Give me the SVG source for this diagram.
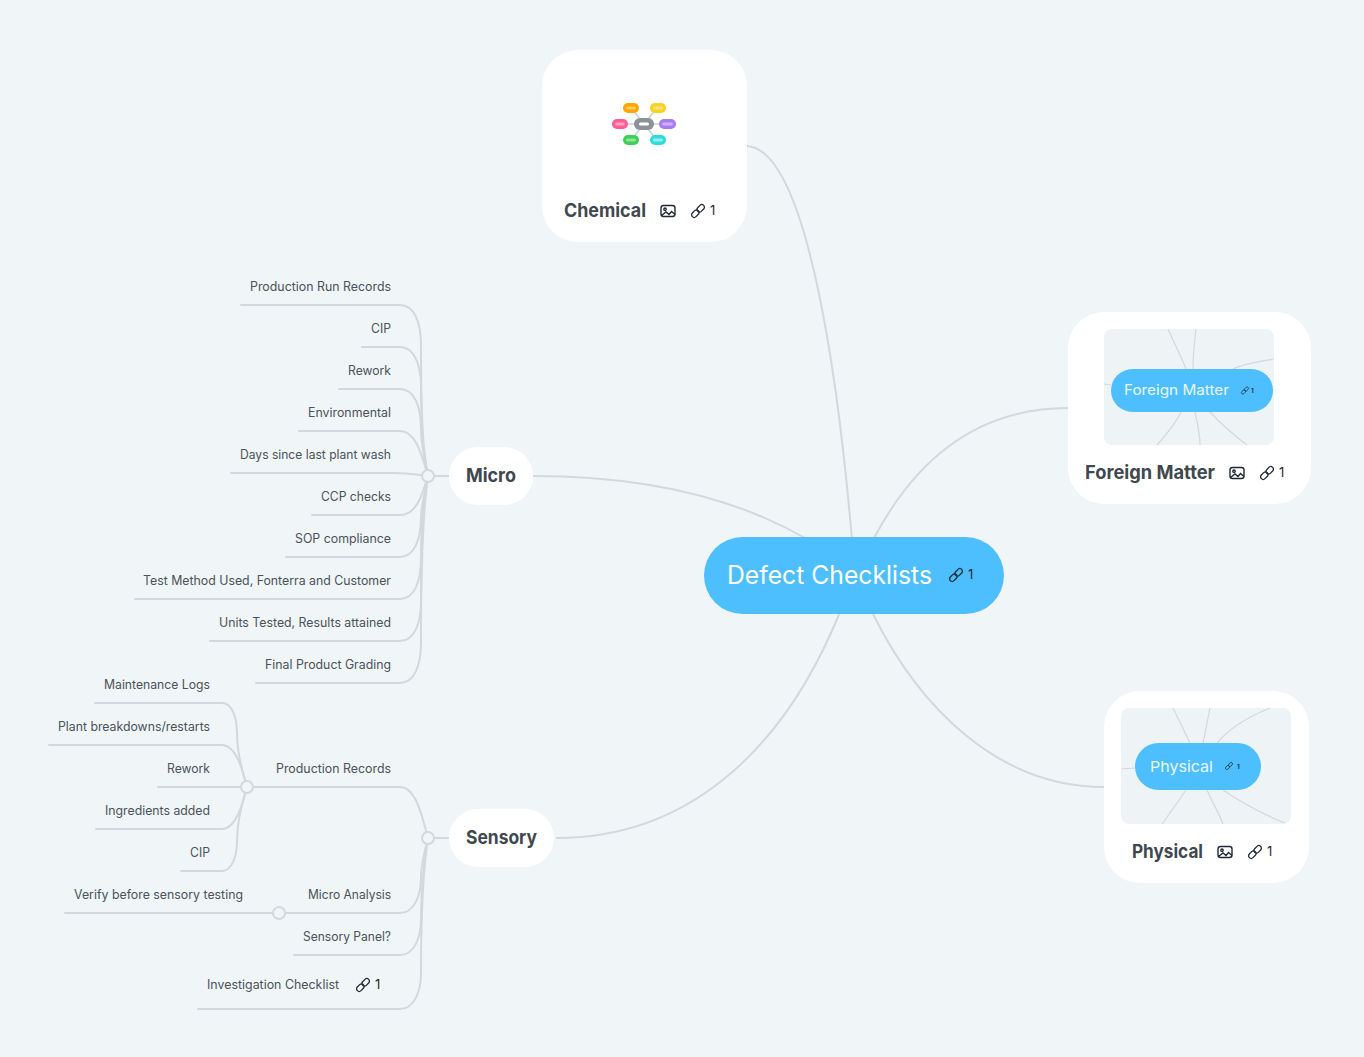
<svg xmlns="http://www.w3.org/2000/svg" xmlns:xlink="http://www.w3.org/1999/xlink" width="1364" height="1057" viewBox="0 0 1364 1057">
<style>
text{font-family:"Inter","Noto Sans","Liberation Sans",sans-serif}
.e{fill:none;stroke:#d2d8dc;stroke-width:2;stroke-linecap:round}
.m{fill:none;stroke:#d2d8dc;stroke-width:1.2}
.leaf{font-size:12.5px;fill:#4a5359;text-anchor:end}
.main{font-size:19px;font-weight:700;fill:#3f484f}
.n{font-size:13px;fill:#1f2a33}
.n2{font-size:6.5px;font-weight:600;fill:#1f2a33}
.dot{fill:#f0f5f8;stroke:#d2d8dc;stroke-width:2}
.card{fill:#fff}
.thumb{fill:#eef3f6}
.blue{fill:#4dbfff}
.wt{fill:#e8f6ff}
</style>
<defs>
<g id="link" fill="none" stroke="#1f2a33" stroke-width="1.3">
<rect x="-8" y="-2.6" width="8.5" height="5.2" rx="2.6" transform="rotate(-45)"/>
<rect x="-0.5" y="-2.6" width="8.5" height="5.2" rx="2.6" transform="rotate(-45)"/>
</g>
<g id="img" fill="none" stroke="#1f2a33" stroke-width="1.4">
<rect x="-7" y="-5.5" width="14" height="11" rx="2.5"/>
<circle cx="-3" cy="-1.8" r="1.2"/>
<path d="M-6.5 4.5 L-2 1 L1 3.5 L3.5 0.5 L7 3.5"/>
</g>
</defs>
<rect width="1364" height="1057" fill="#f0f5f8"/>
<g id="connectors">
<path class="e" d="M852 540C840 400 810 150 747 146"/>
<path class="e" d="M873 540C920 450 985 408 1068 408"/>
<path class="e" d="M872 612C920 710 1000 787 1104 787"/>
<path class="e" d="M533 476C640 476 730 495 805 538"/>
<path class="e" d="M557 838C680 838 780 760 840 612"/>
<path class="e" d="M449 476H428"/>
<path class="e" d="M449 838H428"/>
<path class="e" d="M428 476C423 450 421 420 421 345C421 322 414 305 400 305H241"/>
<path class="e" d="M428 476C423 455 421 430 421 387C421 364 414 347 400 347H362"/>
<path class="e" d="M428 476C425 460 421 445 421 429C421 406 414 389 400 389H339"/>
<path class="e" d="M428 476C422 456 416 431 400 431H299"/>
<path class="e" d="M428 476C415 474 405 473 391 473H231"/>
<path class="e" d="M428 476C422 496 416 515 400 515H312"/>
<path class="e" d="M428 476C425 492 421 507 421 517C421 540 414 557 400 557H286"/>
<path class="e" d="M428 476C423 497 421 525 421 559C421 582 414 599 400 599H135"/>
<path class="e" d="M428 476C423 505 421 545 421 601C421 624 414 641 400 641H210"/>
<path class="e" d="M428 476C423 510 421 565 421 643C421 666 414 683 400 683H256"/>
<path class="e" d="M428 838C422 816 416 787 400 787H247"/>
<path class="e" d="M428 838C425 850 421 865 421 877C421 896 414 913 400 913H279"/>
<path class="e" d="M428 838C424 860 421 890 421 919C421 938 414 955 400 955H294"/>
<path class="e" d="M428 838C423 870 421 910 421 973C421 992 414 1009 400 1009H198"/>
<path class="e" d="M247 787C240 765 237 750 237 733C237 718 232 703 222 703H95"/>
<path class="e" d="M247 787C243 771 236 745 222 745H49"/>
<path class="e" d="M247 787H158"/>
<path class="e" d="M247 787C243 803 236 829 222 829H96"/>
<path class="e" d="M247 787C240 809 237 824 237 841C237 856 232 871 222 871H181"/>
<path class="e" d="M279 913H65"/>
</g>
<g id="dots">
<circle class="dot" cx="428" cy="476" r="6"/>
<circle class="dot" cx="428" cy="838" r="6"/>
<circle class="dot" cx="247" cy="787" r="6"/>
<circle class="dot" cx="279" cy="913" r="6"/>
</g>
<g id="root">
<rect class="blue" x="704" y="537" width="300" height="77" rx="38.5"/>
<text x="727" y="584" font-size="25.5" fill="#fff" textLength="205" lengthAdjust="spacingAndGlyphs">Defect Checklists</text>
<use xlink:href="#link" href="#link" x="956" y="575"/>
<text class="n" x="968" y="579">1</text>
</g>
<g id="chemical">
<rect class="card" x="542" y="50" width="205" height="192" rx="36"/>
<g stroke="#c9cfd3" stroke-width="1.5">
<path d="M631 108L657 140M657 108L631 140M620 124H667"/>
</g>
<rect x="634" y="118" width="20" height="12" rx="6" fill="#8b9398"/><rect x="639" y="122.500" width="10" height="3" rx="1.500" fill="#fff"/>
<rect x="623" y="103" width="16" height="10" rx="5" fill="#ffa500"/><rect x="626" y="106.500" width="10" height="3" rx="1.500" fill="#ffc95c"/>
<rect x="650" y="103" width="16" height="10" rx="5" fill="#ffd01f"/><rect x="653" y="106.500" width="10" height="3" rx="1.500" fill="#ffe680"/>
<rect x="612" y="119" width="16" height="10" rx="5" fill="#ff5c93"/><rect x="615" y="122.500" width="10" height="3" rx="1.500" fill="#ffa0c2"/>
<rect x="659" y="119" width="17" height="10" rx="5" fill="#a67cf0"/><rect x="662" y="122.500" width="11" height="3" rx="1.500" fill="#cbb2f6"/>
<rect x="623" y="135" width="16" height="10" rx="5" fill="#3fcf55"/><rect x="626" y="138.500" width="10" height="3" rx="1.500" fill="#8fe39c"/>
<rect x="650" y="135" width="16" height="10" rx="5" fill="#2fdcdc"/><rect x="653" y="138.500" width="10" height="3" rx="1.500" fill="#93eeee"/>
<text class="main" x="564" y="217" textLength="82" lengthAdjust="spacingAndGlyphs">Chemical</text>
<use xlink:href="#img" href="#img" x="668" y="211"/>
<use xlink:href="#link" href="#link" x="698" y="211"/>
<text class="n" x="710" y="215">1</text>
</g>
<g id="foreign">
<rect class="card" x="1068" y="312" width="243" height="192" rx="36"/>
<rect class="thumb" x="1104" y="329" width="170" height="116" rx="8"/>
<path class="m" d="M1168 329C1175 345 1182 358 1186 369M1196 329C1194 345 1193 358 1193 369M1274 359C1255 362 1240 365 1233 369M1104 384L1111 385M1181 412C1175 425 1165 436 1157 445M1195 412C1198 425 1200 436 1200 445M1210 412C1222 425 1235 436 1247 445"/>
<rect class="blue" x="1111" y="369" width="162" height="43" rx="21.5"/>
<text class="wt" x="1124" y="395" font-size="14.5" textLength="105" lengthAdjust="spacingAndGlyphs">Foreign Matter</text>
<use xlink:href="#link" href="#link" transform="translate(1245 390.500) scale(.55)"/>
<text class="n2" x="1251" y="393">1</text>
<text class="main" x="1085" y="479" textLength="130" lengthAdjust="spacingAndGlyphs">Foreign Matter</text>
<use xlink:href="#img" href="#img" x="1237" y="473"/>
<use xlink:href="#link" href="#link" x="1267" y="473"/>
<text class="n" x="1279" y="477">1</text>
</g>
<g id="physical">
<rect class="card" x="1104" y="691" width="205" height="192" rx="36"/>
<rect class="thumb" x="1121" y="708" width="170" height="116" rx="8"/>
<path class="m" d="M1173 708C1180 722 1186 735 1190 743M1210 708C1207 722 1205 735 1203 743M1270 708C1245 718 1228 730 1217 743M1121 769L1135 768M1186 790C1178 802 1170 813 1162 824M1207 790C1212 802 1219 813 1223 824M1223 790C1245 805 1265 815 1285 823"/>
<rect class="blue" x="1135" y="743" width="126" height="47" rx="23.5"/>
<text class="wt" x="1150" y="772" font-size="15" textLength="63" lengthAdjust="spacingAndGlyphs">Physical</text>
<use xlink:href="#link" href="#link" transform="translate(1229 766) scale(.55)"/>
<text class="n2" x="1237" y="768.500">1</text>
<text class="main" x="1132" y="858" textLength="71" lengthAdjust="spacingAndGlyphs">Physical</text>
<use xlink:href="#img" href="#img" x="1225" y="852"/>
<use xlink:href="#link" href="#link" x="1255" y="852"/>
<text class="n" x="1267" y="856">1</text>
</g>
<g id="micro">
<rect class="card" x="449" y="447" width="84" height="58" rx="29"/>
<text class="main" x="466" y="482" textLength="50" lengthAdjust="spacingAndGlyphs">Micro</text>
</g>
<g id="sensory">
<rect class="card" x="449" y="809" width="105" height="58" rx="29"/>
<text class="main" x="466" y="844" textLength="71" lengthAdjust="spacingAndGlyphs">Sensory</text>
</g>
<g id="micro-leaves">
<text class="leaf" x="391" y="291" textLength="141" lengthAdjust="spacingAndGlyphs">Production Run Records</text>
<text class="leaf" x="391" y="333" textLength="20" lengthAdjust="spacingAndGlyphs">CIP</text>
<text class="leaf" x="391" y="375" textLength="43" lengthAdjust="spacingAndGlyphs">Rework</text>
<text class="leaf" x="391" y="417" textLength="83" lengthAdjust="spacingAndGlyphs">Environmental</text>
<text class="leaf" x="391" y="459" textLength="151" lengthAdjust="spacingAndGlyphs">Days since last plant wash</text>
<text class="leaf" x="391" y="501" textLength="70" lengthAdjust="spacingAndGlyphs">CCP checks</text>
<text class="leaf" x="391" y="543" textLength="96" lengthAdjust="spacingAndGlyphs">SOP compliance</text>
<text class="leaf" x="391" y="585" textLength="248" lengthAdjust="spacingAndGlyphs">Test Method Used, Fonterra and Customer</text>
<text class="leaf" x="391" y="627" textLength="172" lengthAdjust="spacingAndGlyphs">Units Tested, Results attained</text>
<text class="leaf" x="391" y="669" textLength="126" lengthAdjust="spacingAndGlyphs">Final Product Grading</text>
</g>
<g id="sensory-leaves">
<text class="leaf" x="391" y="773" textLength="115" lengthAdjust="spacingAndGlyphs">Production Records</text>
<text class="leaf" x="391" y="899" textLength="83" lengthAdjust="spacingAndGlyphs">Micro Analysis</text>
<text class="leaf" x="391" y="941" textLength="88" lengthAdjust="spacingAndGlyphs">Sensory Panel?</text>
<text class="leaf" x="339" y="989" textLength="132" lengthAdjust="spacingAndGlyphs">Investigation Checklist</text>
<use xlink:href="#link" href="#link" x="363" y="985"/>
<text class="n" x="375" y="989">1</text>
<text class="leaf" x="210" y="689" textLength="106" lengthAdjust="spacingAndGlyphs">Maintenance Logs</text>
<text class="leaf" x="210" y="731" textLength="152" lengthAdjust="spacingAndGlyphs">Plant breakdowns/restarts</text>
<text class="leaf" x="210" y="773" textLength="43" lengthAdjust="spacingAndGlyphs">Rework</text>
<text class="leaf" x="210" y="815" textLength="105" lengthAdjust="spacingAndGlyphs">Ingredients added</text>
<text class="leaf" x="210" y="857" textLength="20" lengthAdjust="spacingAndGlyphs">CIP</text>
<text class="leaf" x="243" y="899" textLength="169" lengthAdjust="spacingAndGlyphs">Verify before sensory testing</text>
</g>
</svg>
